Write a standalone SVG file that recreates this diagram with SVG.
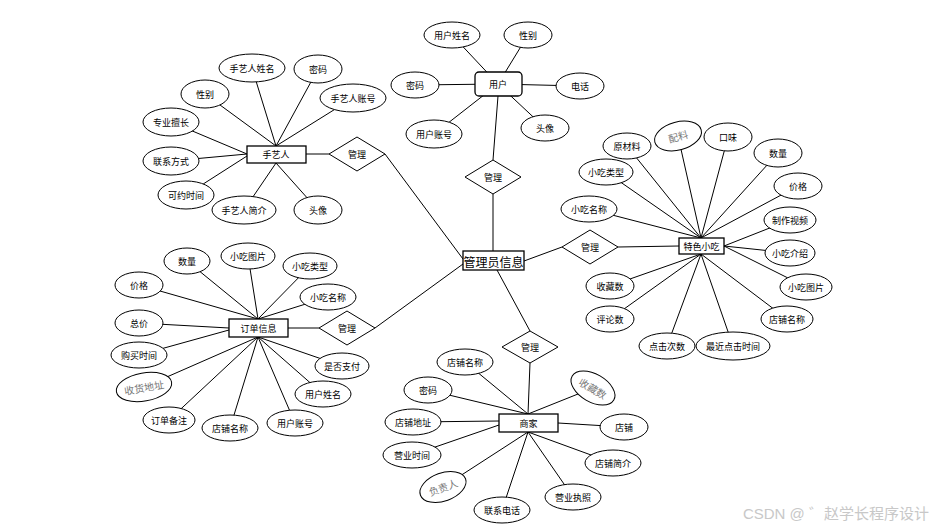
<svg xmlns="http://www.w3.org/2000/svg" width="951" height="531" viewBox="0 0 951 531">
<style>
.c line{stroke:#000;stroke-width:1}
ellipse{fill:#fff;stroke:#000;stroke-width:1}
.e{fill:#fff;stroke:#000;stroke-width:1.3}
polygon{fill:#fff;stroke:#000;stroke-width:1}
text{font-family:"Noto Sans CJK SC","Liberation Sans",sans-serif;font-size:9px;text-anchor:middle;dominant-baseline:central;fill:#000}
.g{fill:#777;font-family:"Noto Sans CJK SC",serif;font-size:10px}
.big{font-size:12px}
</style>
<rect width="951" height="531" fill="#fff"/>
<g class="c" id="connectors">
<!-- user -->
<line x1="498" y1="84" x2="452" y2="35"/><line x1="498" y1="84" x2="528" y2="35"/><line x1="498" y1="84" x2="415" y2="85"/><line x1="498" y1="84" x2="580" y2="86"/><line x1="498" y1="84" x2="545" y2="128"/><line x1="498" y1="84" x2="434" y2="134"/>
<line x1="498" y1="96" x2="493" y2="160"/><line x1="493" y1="194" x2="493" y2="252"/>
<!-- craftsman -->
<line x1="276" y1="146" x2="252" y2="68"/><line x1="276" y1="146" x2="318" y2="69"/><line x1="276" y1="146" x2="353" y2="98"/><line x1="276" y1="146" x2="205" y2="94"/>
<line x1="247" y1="154" x2="171" y2="122"/><line x1="247" y1="154" x2="171" y2="161"/><line x1="247" y1="156" x2="186" y2="195"/>
<line x1="276" y1="163" x2="244" y2="210"/><line x1="276" y1="163" x2="318" y2="210"/>
<line x1="306" y1="154" x2="329" y2="154"/><line x1="385" y1="154" x2="463" y2="259"/>
<!-- snack -->
<line x1="701" y1="238" x2="627" y2="146"/><line x1="701" y1="238" x2="678" y2="136"/><line x1="701" y1="238" x2="728" y2="137"/><line x1="701" y1="238" x2="778" y2="153"/><line x1="701" y1="238" x2="798" y2="186"/><line x1="701" y1="238" x2="606" y2="172"/><line x1="701" y1="238" x2="589" y2="209"/>
<line x1="724" y1="246" x2="790" y2="220"/><line x1="724" y1="246" x2="790" y2="253"/><line x1="724" y1="246" x2="806" y2="287"/>
<line x1="701" y1="254" x2="787" y2="319"/><line x1="701" y1="254" x2="733" y2="346"/><line x1="701" y1="254" x2="667" y2="346"/><line x1="701" y1="254" x2="610" y2="319"/><line x1="701" y1="254" x2="610" y2="286"/>
<line x1="524" y1="261" x2="562" y2="247"/><line x1="618" y1="247" x2="679" y2="246"/>
<!-- order -->
<line x1="258" y1="319" x2="187" y2="261"/><line x1="258" y1="319" x2="248" y2="256"/><line x1="258" y1="319" x2="310" y2="266"/><line x1="258" y1="319" x2="328" y2="297"/><line x1="258" y1="319" x2="139" y2="285"/>
<line x1="229" y1="328" x2="139" y2="323"/><line x1="229" y1="330" x2="139" y2="355"/>
<line x1="258" y1="337" x2="144" y2="387"/><line x1="258" y1="337" x2="169" y2="420"/><line x1="258" y1="337" x2="230" y2="428"/><line x1="258" y1="337" x2="295" y2="423"/><line x1="258" y1="337" x2="323" y2="394"/><line x1="258" y1="337" x2="342" y2="366"/>
<line x1="288" y1="328" x2="319" y2="328"/><line x1="375" y1="328" x2="463" y2="264"/>
<!-- merchant -->
<line x1="528" y1="414" x2="465" y2="362"/><line x1="528" y1="414" x2="428" y2="390"/><line x1="528" y1="414" x2="593" y2="388"/>
<line x1="499" y1="421" x2="413" y2="422"/><line x1="499" y1="425" x2="412" y2="455"/><line x1="558" y1="423" x2="624" y2="427"/>
<line x1="528" y1="432" x2="443" y2="487"/><line x1="528" y1="432" x2="502" y2="510"/><line x1="528" y1="432" x2="573" y2="497"/><line x1="528" y1="432" x2="613" y2="463"/>
<line x1="497" y1="270" x2="530" y2="331"/><line x1="530" y1="363" x2="528" y2="414"/>
</g>
<g id="admin"><rect class="e" x="463" y="251" width="61" height="19"/><text class="big" x="493.5" y="261">管理员信息</text></g>
<g id="user">
<rect class="e" x="475" y="72" width="47" height="24" rx="4"/><text x="498" y="84">用户</text>
<ellipse cx="452" cy="35" rx="28" ry="13"/><text x="452" y="35">用户姓名</text>
<ellipse cx="528" cy="35" rx="24" ry="13"/><text x="528" y="35">性别</text>
<ellipse cx="415" cy="85" rx="24" ry="13"/><text x="415" y="85">密码</text>
<ellipse cx="580" cy="86" rx="24" ry="13"/><text x="580" y="86">电话</text>
<ellipse cx="545" cy="128" rx="24" ry="13"/><text x="545" y="128">头像</text>
<ellipse cx="434" cy="134" rx="28" ry="14"/><text x="434" y="134">用户账号</text>
<polygon points="493,160 521,177 493,194 465,177"/><text x="493" y="177">管理</text>
</g>
<g id="craftsman">
<rect class="e" x="247" y="146" width="59" height="17"/><text x="276" y="154.5">手艺人</text>
<ellipse cx="252" cy="68" rx="33" ry="14"/><text x="252" y="68">手艺人姓名</text>
<ellipse cx="318" cy="69" rx="24" ry="14"/><text x="318" y="69">密码</text>
<ellipse cx="353" cy="98" rx="33" ry="14"/><text x="353" y="98">手艺人账号</text>
<ellipse cx="205" cy="94" rx="24" ry="14"/><text x="205" y="94">性别</text>
<ellipse cx="171" cy="122" rx="28" ry="14"/><text x="171" y="122">专业擅长</text>
<ellipse cx="171" cy="161" rx="28" ry="14"/><text x="171" y="161">联系方式</text>
<ellipse cx="186" cy="195" rx="28" ry="14"/><text x="186" y="195">可约时间</text>
<ellipse cx="244" cy="210" rx="32" ry="14"/><text x="244" y="210">手艺人简介</text>
<ellipse cx="318" cy="210" rx="24" ry="14"/><text x="318" y="210">头像</text>
<polygon points="357,137 385,154 357,171 329,154"/><text x="357" y="154">管理</text>
</g>
<g id="snack">
<rect class="e" x="679" y="238" width="45" height="16"/><text x="701.5" y="246">特色小吃</text>
<ellipse cx="627" cy="146" rx="24" ry="13"/><text x="627" y="146">原材料</text>
<ellipse cx="678" cy="136" rx="24" ry="14" transform="rotate(-15 678 136)"/><text class="g" x="678" y="136" transform="rotate(-15 678 136)">配料</text>
<ellipse cx="728" cy="137" rx="24" ry="14"/><text x="728" y="137">口味</text>
<ellipse cx="778" cy="153" rx="24" ry="14"/><text x="778" y="153">数量</text>
<ellipse cx="798" cy="186" rx="24" ry="13"/><text x="798" y="186">价格</text>
<ellipse cx="790" cy="220" rx="26" ry="13"/><text x="790" y="220">制作视频</text>
<ellipse cx="790" cy="253" rx="25" ry="13"/><text x="790" y="253">小吃介绍</text>
<ellipse cx="806" cy="287" rx="26" ry="13"/><text x="806" y="287">小吃图片</text>
<ellipse cx="787" cy="319" rx="26" ry="13"/><text x="787" y="319">店铺名称</text>
<ellipse cx="733" cy="346" rx="37" ry="14"/><text x="733" y="346">最近点击时间</text>
<ellipse cx="667" cy="346" rx="28" ry="13"/><text x="667" y="346">点击次数</text>
<ellipse cx="610" cy="319" rx="24" ry="13"/><text x="610" y="319">评论数</text>
<ellipse cx="610" cy="286" rx="24" ry="13"/><text x="610" y="286">收藏数</text>
<ellipse cx="589" cy="209" rx="28" ry="13"/><text x="589" y="209">小吃名称</text>
<ellipse cx="606" cy="172" rx="27" ry="13"/><text x="606" y="172">小吃类型</text>
<polygon points="590,230 618,247 590,264 562,247"/><text x="590" y="247">管理</text>
</g>
<g id="order">
<rect class="e" x="229" y="319" width="59" height="18"/><text x="258.5" y="328">订单信息</text>
<ellipse cx="187" cy="261" rx="23" ry="13"/><text x="187" y="261">数量</text>
<ellipse cx="248" cy="256" rx="27" ry="13"/><text x="248" y="256">小吃图片</text>
<ellipse cx="310" cy="266" rx="27" ry="13"/><text x="310" y="266">小吃类型</text>
<ellipse cx="328" cy="297" rx="28" ry="13"/><text x="328" y="297">小吃名称</text>
<ellipse cx="139" cy="285" rx="24" ry="13"/><text x="139" y="285">价格</text>
<ellipse cx="139" cy="323" rx="24" ry="13"/><text x="139" y="323">总价</text>
<ellipse cx="139" cy="355" rx="28" ry="13"/><text x="139" y="355">购买时间</text>
<ellipse cx="144" cy="387" rx="28" ry="14" transform="rotate(-10 144 387)"/><text class="g" x="144" y="387" transform="rotate(-10 144 387)">收货地址</text>
<ellipse cx="169" cy="420" rx="26" ry="13"/><text x="169" y="420">订单备注</text>
<ellipse cx="230" cy="428" rx="28" ry="13"/><text x="230" y="428">店铺名称</text>
<ellipse cx="295" cy="423" rx="28" ry="13"/><text x="295" y="423">用户账号</text>
<ellipse cx="323" cy="394" rx="28" ry="13"/><text x="323" y="394">用户姓名</text>
<ellipse cx="342" cy="366" rx="27" ry="13"/><text x="342" y="366">是否支付</text>
<polygon points="347,311 375,328 347,345 319,328"/><text x="347" y="328">管理</text>
</g>
<g id="merchant">
<rect class="e" x="499" y="414" width="59" height="18"/><text x="528.5" y="423">商家</text>
<ellipse cx="465" cy="362" rx="28" ry="13"/><text x="465" y="362">店铺名称</text>
<ellipse cx="428" cy="390" rx="24" ry="13"/><text x="428" y="390">密码</text>
<ellipse cx="413" cy="422" rx="28" ry="13"/><text x="413" y="422">店铺地址</text>
<ellipse cx="412" cy="455" rx="29" ry="13"/><text x="412" y="455">营业时间</text>
<ellipse cx="443" cy="487" rx="24" ry="14" transform="rotate(-20 443 487)"/><text class="g" x="443" y="487" transform="rotate(-20 443 487)">负责人</text>
<ellipse cx="502" cy="510" rx="28" ry="13"/><text x="502" y="510">联系电话</text>
<ellipse cx="573" cy="497" rx="28" ry="13"/><text x="573" y="497">营业执照</text>
<ellipse cx="613" cy="463" rx="28" ry="13"/><text x="613" y="463">店铺简介</text>
<ellipse cx="624" cy="427" rx="24" ry="13"/><text x="624" y="427">店铺</text>
<ellipse cx="593" cy="388" rx="24" ry="14" transform="rotate(30 593 388)"/><text class="g" x="593" y="388" transform="rotate(30 593 388)">收藏数</text>
<polygon points="530,331 558,347 530,363 502,347"/><text x="530" y="347">管理</text>
</g>
<text x="836" y="513" style="font-size:15px;fill:#c8c8c8;font-family:'Liberation Sans','Noto Sans CJK SC',sans-serif">CSDN @ ゛赵学长程序设计</text>
</svg>
